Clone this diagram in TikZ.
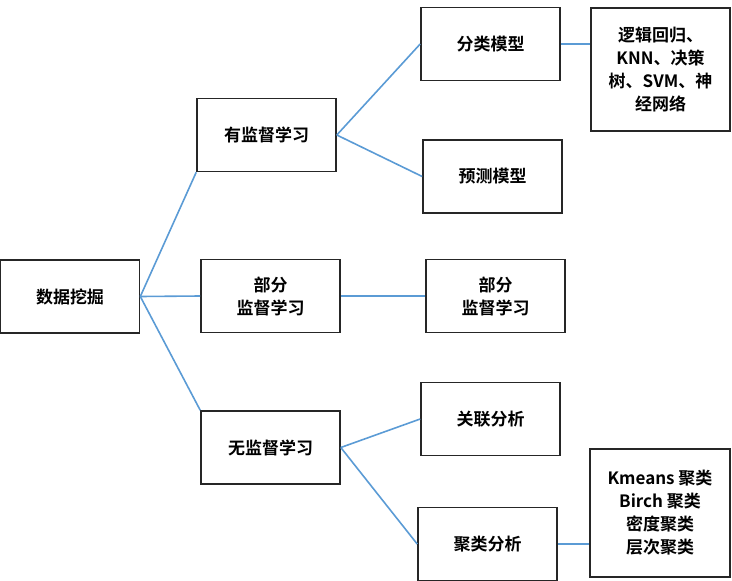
\documentclass[tikz,border=0pt]{standalone}
\usepackage{fontspec}
\newfontfamily\cjk{Noto Sans CJK SC Bold}
\definecolor{linkblue}{RGB}{91,155,213}
\begin{document}
\begin{tikzpicture}[x=1pt,y=-1pt,
  box/.style={draw=black!85,line width=1.6pt,minimum width=139pt,minimum height=73pt,align=center,font=\cjk\fontsize{17}{23}\selectfont,inner sep=0pt},
  link/.style={draw=linkblue,line width=1.6pt}]
\useasboundingbox (0,0) rectangle (732,581);
\node[box] (dm) at (70,296.5) {数据挖掘};
\node[box] (sup) at (266.5,135) {有监督学习};
\node[box] (semi) at (270.5,296) {部分\\监督学习};
\node[box] (uns) at (270.5,447.5) {无监督学习};
\node[box] (cls) at (490.5,44) {分类模型};
\node[box] (pred) at (492.5,176.5) {预测模型};
\node[box] (semi2) at (495.5,296) {部分\\监督学习};
\node[box] (assoc) at (490.5,419) {关联分析};
\node[box] (clu) at (487.5,544) {聚类分析};
\node[box,minimum width=139pt,minimum height=123pt] (alg) at (660.5,69.5) {逻辑回归、\\KNN、决策\\树、SVM、神\\经网络};
\node[box,minimum width=140pt,minimum height=128pt] (km) at (660,513) {Kmeans 聚类\\Birch 聚类\\密度聚类\\层次聚类};
\draw[link] (dm.east) -- (sup.south west);
\draw[link] (dm.east) -- (semi.west);
\draw[link] (dm.east) -- (uns.north west);
\draw[link] (sup.east) -- (cls.west);
\draw[link] (sup.east) -- (pred.west);
\draw[link] (semi.east) -- (semi2.west);
\draw[link] (uns.east) -- (assoc.west);
\draw[link] (uns.east) -- (clu.west);
\draw[link] (cls.east) -- (cls.east -| alg.west);
\draw[link] (clu.east) -- (clu.east -| km.west);
\end{tikzpicture}
\end{document}
